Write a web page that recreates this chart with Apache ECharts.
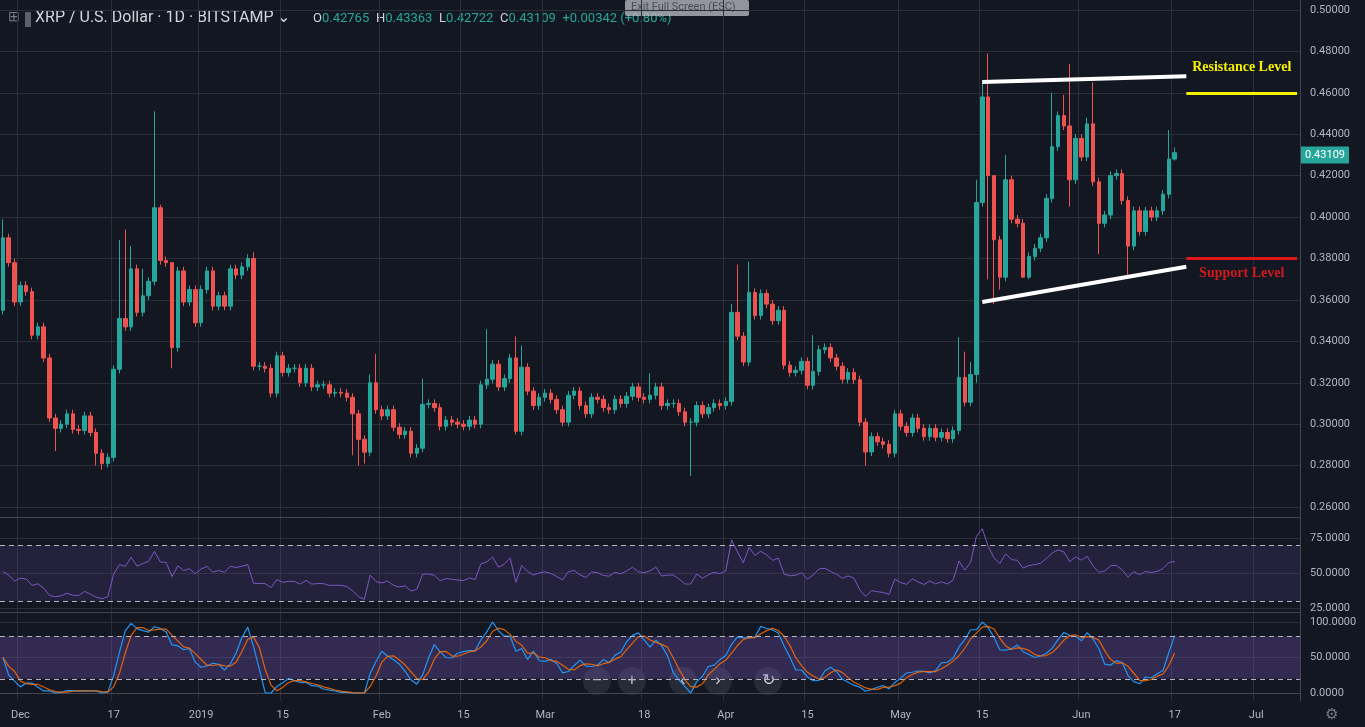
<!DOCTYPE html>
<html><head><meta charset="utf-8">
<script src="https://cdn.jsdelivr.net/npm/echarts@6/dist/echarts.min.js"></script>
<style>html,body{margin:0;padding:0;background:#131722;}#c{width:1365px;height:727px;}</style>
</head><body><div id="c"></div>
<script>
// ---- data ----
const startDate = [2018, 10, 28]; // Nov 28 2018, one candle per day
const totalSlots = 223;           // axis runs to early July
const firstOpen = 0.355;
const closes = [
0.39,0.378,0.359,0.367,0.364,0.343,0.347,0.332,0.303,0.298,0.30,0.305,0.2975,0.297,0.304,0.296,0.286,0.281,0.284,0.3265,
0.351,0.347,0.375,0.354,0.362,0.369,0.4045,0.379,0.378,0.337,0.374,0.359,0.365,0.349,0.365,0.374,0.357,0.362,0.357,0.375,
0.372,0.376,0.38,0.328,0.328,0.327,0.315,0.333,0.325,0.327,0.327,0.32,0.327,0.318,0.319,0.319,0.315,
0.3154,0.315,0.313,0.305,0.2927,0.2865,0.32,0.307,0.304,0.307,0.2985,0.295,0.2966,0.286,0.2884,0.3096,0.31,0.308,0.299,0.302,
0.301,0.30,0.299,0.302,0.30,0.319,0.3217,0.329,0.318,0.322,0.332,0.2966,0.3275,0.316,0.309,0.313,0.315,0.312,0.307,0.301,
0.314,0.316,0.309,0.305,0.313,0.312,0.308,0.307,0.312,0.31,0.3135,0.318,0.313,0.312,0.314,0.318,
0.309,0.31,0.31,0.306,0.301,0.301,0.309,0.305,0.308,0.31,0.309,0.311,0.354,0.3425,0.33,0.3636,0.3525,0.3631,0.358,0.35,
0.355,0.3285,0.325,0.326,0.3303,0.3188,0.3255,0.336,0.337,0.332,0.328,0.3217,0.325,0.3215,0.301,0.2866,0.294,0.2915,0.2903,0.286,
0.305,0.299,0.296,0.303,0.298,0.294,0.298,0.2937,0.296,0.293,0.297,0.3226,0.3106,0.324,
0.407,0.458,0.42,0.389,0.371,0.418,0.399,0.397,0.371,0.381,0.385,0.39,0.409,0.434,0.449,0.444,0.418,0.438,
0.429,0.445,0.417,0.397,0.401,0.42,0.421,0.408,0.386,0.403,0.393,0.403,0.40,0.403,0.411,0.428,0.43109
];
const wick = 0.002;
const highMarks = {0:0.399,20:0.389,21:0.394,22:0.386,24:0.375,26:0.451,27:0.406,29:0.373,43:0.383,63:0.324,64:0.334,72:0.322,
 83:0.346,88:0.3424,89:0.338,111:0.3246,125:0.358,126:0.377,128:0.3785,131:0.365,139:0.343,164:0.342,165:0.335,166:0.33,
 167:0.418,168:0.466,169:0.479,170:0.41,172:0.43,180:0.46,182:0.459,183:0.474,184:0.44,186:0.448,187:0.465,200:0.442,201:0.43363};
const lowMarks = {9:0.287,16:0.28,17:0.278,29:0.327,60:0.285,61:0.28,62:0.281,88:0.295,118:0.275,148:0.28,167:0.32,169:0.37,
 170:0.358,171:0.365,175:0.372,176:0.37,183:0.405,188:0.382,193:0.371,201:0.42722};
const rsiSeed = {avgGain:0.0062, avgLoss:0.0085}; // state carried in from before the visible window
const priceTicks = [0.26,0.28,0.30,0.32,0.34,0.36,0.38,0.40,0.42,0.44,0.46,0.48,0.50];
const rsiTicks = [25,50,75];
const stochTicks = [0,50,100];
const dateLabels = [["2018-12-01","Dec"],["2018-12-17","17"],["2019-01-01","2019"],["2019-01-15","15"],["2019-02-01","Feb"],
 ["2019-02-15","15"],["2019-03-01","Mar"],["2019-03-18","18"],["2019-04-01","Apr"],["2019-04-15","15"],["2019-05-01","May"],
 ["2019-05-15","15"],["2019-06-01","Jun"],["2019-06-17","17"],["2019-07-01","Jul"]];
const resistance = {from:[168,0.4652],to:[203,0.468]};
const support = {from:[168,0.359],to:[203,0.376]};
const levelResistance = 0.46, levelSupport = 0.38;
const lastClose = 0.43109;

// ---- build ----
const cats=[]; const d0=new Date(startDate[0],startDate[1],startDate[2]);
for(let i=0;i<totalSlots;i++){const d=new Date(d0.getTime()+i*86400000+3600000*2);
 cats.push(d.getFullYear()+'-'+String(d.getMonth()+1).padStart(2,'0')+'-'+String(d.getDate()).padStart(2,'0'));}
const labelMap={}; dateLabels.forEach(([k,v])=>labelMap[k]=v);
const ohlc=closes.map((c,i)=>{const o=i===0?firstOpen:closes[i-1];
 const h=highMarks[i]!==undefined?highMarks[i]:Math.max(o,c)+wick;
 const l=lowMarks[i]!==undefined?lowMarks[i]:Math.min(o,c)-wick;
 return [o,c,l,h];});
// RSI 14 (Wilder)
const rsi=[]; let ag=rsiSeed.avgGain,al=rsiSeed.avgLoss;
for(let i=0;i<closes.length;i++){
 const prev=i===0?firstOpen:closes[i-1];
 const ch=closes[i]-prev, g=Math.max(ch,0), lo=Math.max(-ch,0);
 ag=(ag*13+g)/14; al=(al*13+lo)/14;
 rsi.push(100-100/(1+ag/al));
}
// Stoch 14,3,3 on closing prices
const raw=closes.map((c,i)=>{let hh=-1,ll=9;for(let j=Math.max(0,i-13);j<=i;j++){hh=Math.max(hh,closes[j]);ll=Math.min(ll,closes[j]);}
 return hh===ll?50:(c-ll)/(hh-ll)*100;});
const sma=(a,n)=>a.map((v,i)=>{let s=0,k=0;for(let j=Math.max(0,i-n+1);j<=i;j++){if(a[j]!=null){s+=a[j];k++;}}return k?s/k:null;});
const kLine=sma(raw,3), dLine=sma(kLine,3);

const isLabel=(idx)=>labelMap[cats[idx]]!==undefined;
const gridLine={lineStyle:{color:'#2a2e39',width:1}};
const xBase=(gi,showLabel)=>({type:'category',gridIndex:gi,data:cats,boundaryGap:true,
 axisLine:{show:true,lineStyle:{color:'#434651'}},axisTick:{show:false},
 axisLabel:{show:showLabel,interval:(i)=>isLabel(i),formatter:(v)=>labelMap[v]||'',color:'#b2b5be',fontSize:11,fontFamily:'Roboto',margin:9},
 splitLine:{show:true,interval:(i)=>isLabel(i),...gridLine}});
const yBase=(gi,min,max,ticks,fmt)=>({type:'value',gridIndex:gi,position:'right',min,max,scale:true,
 axisLine:{show:true,lineStyle:{color:'#434651'}},
 axisTick:{show:false,customValues:ticks},
 axisLabel:{customValues:ticks,formatter:fmt,color:'#b2b5be',fontSize:11,fontFamily:'Roboto',margin:10},
 splitLine:{show:true,...gridLine}});

const chart=echarts.init(document.getElementById('c'));
chart.setOption({
 backgroundColor:'#131722',animation:false,
 grid:[{left:0,right:65,top:0,height:517},{left:0,right:65,top:518,height:94},{left:0,right:65,top:613,height:88}],
 xAxis:[xBase(0,false),xBase(1,false),xBase(2,true)],
 yAxis:[yBase(0,0.2552,0.5048,priceTicks,v=>v.toFixed(5)),
        yBase(1,22.1,89.3,rsiTicks,v=>v.toFixed(4)),
        yBase(2,-11.3,112.7,stochTicks,v=>v.toFixed(4))],
 series:[
  {type:'candlestick',xAxisIndex:0,yAxisIndex:0,data:ohlc,barWidth:4,
   itemStyle:{color:'#26a69a',color0:'#ef5350',borderColor:'#26a69a',borderColor0:'#ef5350',borderWidth:1},
   markLine:{symbol:'none',silent:true,animation:false,data:[
     [{coord:resistance.from,lineStyle:{color:'#ffffff',width:4,type:'solid'}},{coord:resistance.to}],
     [{coord:support.from,lineStyle:{color:'#ffffff',width:4,type:'solid'}},{coord:support.to}],
     [{coord:[203,levelResistance],lineStyle:{color:'#f5f000',width:3,type:'solid'},
       label:{show:true,position:'insideMiddleTop',distance:18,formatter:'Resistance Level',color:'#f5f000',fontFamily:'Liberation Serif',fontWeight:'bold',fontSize:14}},
      {coord:[222,levelResistance]}],
     [{coord:[203,levelSupport],lineStyle:{color:'#e0161a',width:3,type:'solid'},
       label:{show:true,position:'insideMiddleBottom',distance:8,formatter:'Support Level',color:'#d01a1e',fontFamily:'Liberation Serif',fontWeight:'bold',fontSize:14}},
      {coord:[222,levelSupport]}]
   ],label:{show:false}}},
  {type:'line',xAxisIndex:0,yAxisIndex:0,data:[],
   markLine:{symbol:'none',silent:true,animation:false,data:[
     {yAxis:lastClose,lineStyle:{color:'rgba(0,0,0,0)',width:1},label:{show:true,position:'end',distance:1,formatter:lastClose.toFixed(5),
       backgroundColor:'#26a69a',color:'#ffffff',padding:[3,4],fontSize:11,fontFamily:'Roboto'}}]}},
  {type:'line',xAxisIndex:1,yAxisIndex:1,data:rsi,showSymbol:false,lineStyle:{color:'#7e57c2',width:1},
   markArea:{silent:true,itemStyle:{color:'rgba(126,87,194,0.16)'},data:[[{yAxis:30},{yAxis:70}]]},
   markLine:{symbol:'none',silent:true,label:{show:false},lineStyle:{color:'#b2b5be',type:[5,4],width:1},data:[{yAxis:70},{yAxis:30}]}},
  {type:'line',xAxisIndex:2,yAxisIndex:2,data:kLine,showSymbol:false,lineStyle:{color:'#2196f3',width:1.2},
   markArea:{silent:true,itemStyle:{color:'rgba(126,87,194,0.3)'},data:[[{yAxis:20},{yAxis:80}]]},
   markLine:{symbol:'none',silent:true,label:{show:false},lineStyle:{color:'#b2b5be',type:[5,4],width:1},data:[{yAxis:80},{yAxis:20}]}},
  {type:'line',xAxisIndex:2,yAxisIndex:2,data:dLine,showSymbol:false,lineStyle:{color:'#ff6d00',width:1.2,opacity:0.85}}
 ],
 graphic:[
  {type:'text',left:8,top:10,style:{text:'⊞',fill:'#787b86',fontSize:14}},
  {type:'rect',shape:{x:25,y:12,width:6,height:15},style:{fill:'#5d606b'}},
  {type:'text',left:35,top:10,style:{text:'XRP / U.S. Dollar · 1D · BITSTAMP ⌄',fill:'#d1d4dc',fontSize:16,fontFamily:'Roboto'}},
  {type:'text',left:313,top:12,style:{rich:{a:{fill:'#d1d4dc',fontSize:13,fontFamily:'Roboto'},b:{fill:'#26a69a',fontSize:13,fontFamily:'Roboto'}},
    text:'{a|O}{b|0.42765}  {a|H}{b|0.43363}  {a|L}{b|0.42722}  {a|C}{b|0.43109}  {b|+0.00342 (+0.80%)}'}},
  {type:'rect',shape:{x:625,y:0,width:124,height:16,r:2},style:{fill:'rgba(190,192,198,0.75)'}},
  {type:'text',left:631,top:2,style:{text:'Exit Full Screen (ESC)',fill:'#4a4d57',fontSize:11,fontFamily:'Roboto'}},
  ...[[597,'−'],[632,'+'],[683,'‹'],[718,'›'],[768,'↻']].map(([x,t])=>({type:'group',children:[
    {type:'circle',shape:{cx:x,cy:681,r:14},style:{fill:'rgba(42,46,57,0.9)'}},
    {type:'text',x:x,y:681,style:{text:t,fill:'#d1d4dc',fontSize:16,align:'center',verticalAlign:'middle'}}]})),
  {type:'text',left:1325,top:707,style:{text:'⚙',fill:'#787b86',fontSize:15}}
 ]
});
</script></body></html>
